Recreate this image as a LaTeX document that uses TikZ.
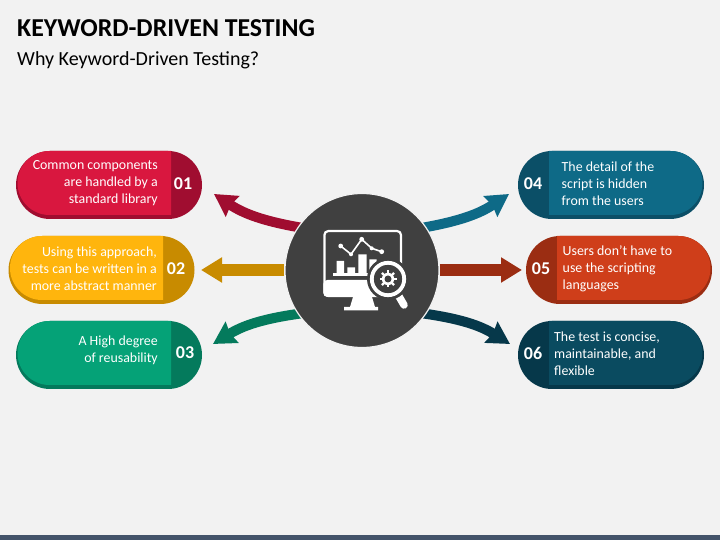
\documentclass[tikz,border=0pt]{standalone}
\usepackage{fontspec}
\setmainfont{Carlito}
\usetikzlibrary{positioning,shapes.misc,arrows.meta}
\pgfdeclarelayer{front}
\pgfsetlayers{main,front}

\definecolor{pagebg}{HTML}{F2F2F2}
\definecolor{barblue}{HTML}{44546A}
\definecolor{hubgrey}{HTML}{404040}
\definecolor{redmain}{HTML}{D9173F}
\definecolor{reddark}{HTML}{A00D30}
\definecolor{ambermain}{HTML}{FFB50D}
\definecolor{amberdark}{HTML}{C88B00}
\definecolor{greenmain}{HTML}{05A277}
\definecolor{greendark}{HTML}{047A5C}
\definecolor{tealmain}{HTML}{0E6A87}
\definecolor{tealdark}{HTML}{0B4F67}
\definecolor{orangemain}{HTML}{CF3E1A}
\definecolor{orangedark}{HTML}{9B2D12}
\definecolor{navymain}{HTML}{0A4B60}
\definecolor{navydark}{HTML}{06384A}

\tikzset{
  pill/.style={rounded rectangle,minimum width=186,minimum height=68,inner sep=0},
  lefttext/.style={anchor=east,align=right,text=white,inner sep=0,font=\fontsize{13.9}{17}\selectfont},
  righttext/.style={anchor=west,align=left,text=white,inner sep=0,font=\fontsize{13.9}{17}\selectfont},
  number/.style={text=white,inner sep=0,font=\fontsize{18}{20}\selectfont\bfseries},
  bandarrow/.style={line width=10,-{Stealth[length=22,width=24,inset=2]},shorten <=-6},
  flatarrow/.style={line width=12,-{Triangle[length=21,width=24]}},
}
% faces of the pills: left edge or right edge, divider, middle, colour
\newcommand{\faceleft}[4]{\fill[#4] (#2,#3+34) -- (#1+33.5,#3+34) arc[start angle=90,end angle=270,radius=32] -- (#2,#3-30) -- cycle;}
\newcommand{\faceright}[4]{\fill[#4] (#2,#3+34) -- (#1-33.5,#3+34) arc[start angle=90,end angle=-90,radius=32] -- (#2,#3-30) -- cycle;}

\begin{document}
\begin{tikzpicture}[x=1pt,y=1pt]
  \useasboundingbox (0,0) rectangle (720,540);
  \fill[pagebg] (0,0) rectangle (720,540);
  \fill[barblue] (0,0) rectangle (720,5);

  % Titles
  \node[anchor=west,inner sep=0,font=\fontsize{25.8}{30}\selectfont\bfseries] (title) at (17,511.5) {KEYWORD-DRIVEN TESTING};
  \node[anchor=west,inner sep=0,font=\fontsize{20}{24}\selectfont] (subtitle) at (17,480) {Why Keyword-Driven Testing?};

  % Define nodes
  \node[pill,fill=reddark] (library) at (109,355) {};
  \node[pill,fill=amberdark] (abstract) at (101.5,270) {};
  \node[pill,fill=greendark] (reusability) at (109,185) {};
  \node[pill,fill=tealdark] (hidden) at (611,355) {};
  \node[pill,fill=orangedark] (scripting) at (619,270) {};
  \node[pill,fill=navydark] (concise) at (611,185) {};

  \faceleft{16}{171}{355}{redmain}
  \faceleft{8.5}{163}{270}{ambermain}
  \faceleft{16}{171}{185}{greenmain}
  \faceright{704}{549}{355}{tealmain}
  \faceright{712}{557}{270}{orangemain}
  \faceright{704}{549}{185}{navymain}

  \node[lefttext] (librarytext) at (158,356.5) {Common components\\are handled by a\\standard library};
  \node[lefttext] (abstracttext) at (157,271.5) {Using this approach,\\tests can be written in a\\more abstract manner};
  \node[lefttext] (reusabilitytext) at (158,189.5) {A High degree\\of reusability};
  \node[righttext] (hiddentext) at (561.5,356.5) {The detail of the\\script is hidden\\from the users};
  \node[righttext] (scriptingtext) at (562.5,271.5) {Users don’t have to\\use the scripting\\languages};
  \node[righttext] (concisetext) at (554,186.5) {The test is concise,\\maintainable, and\\flexible};

  \node[number] (one) at (183,356) {01};
  \node[number] (two) at (176,271) {02};
  \node[number] (three) at (185,187) {03};
  \node[number] (four) at (533,356) {04};
  \node[number] (five) at (541,271) {05};
  \node[number] (six) at (533,187) {06};

  % Centre circle and its icon
  \begin{pgfonlayer}{front}
    \node[circle,fill=hubgrey,draw=pagebg,line width=1.2,minimum size=154,inner sep=0] (hub) at (362,269.5) {};

    % monitor
    \draw[white,line width=2.2,rounded corners=4] (324.4,309) rectangle (401,244);
    \fill[white,rounded corners=4] (323.3,260) rectangle (402,243);
    \fill[white] (353,243) -- (372,243) -- (375,233) -- (378,233) -- (378,229.5) -- (344,229.5) -- (344,233) -- (350,233) -- cycle;

    % bars and line of the chart
    \fill[white] (336.7,265) rectangle (344,279) (347.3,265) rectangle (355,272.7) (358.3,265) rectangle (366.7,285.7) (369.3,265) rectangle (376.7,280.7);
    \fill[white] (333.3,266.7) rectangle (372,264.3);
    \draw[white,line width=1.6] (340.7,294) -- (351,285.7) -- (361.7,300.7) -- (371.7,291.7) -- (381.7,288.3);
    \fill[white] (340.7,294) circle (2.4) (351,285.7) circle (2) (361.7,300.7) circle (2.4) (371.7,291.7) circle (2) (381.7,288.3) circle (2.4);

    % magnifier
    \draw[white,line width=7.5,line cap=round] (397,247) -- (404,235);
    \fill[hubgrey] (388,261) circle (21);
    \draw[white,line width=3.8] (388,261) circle (16.2);
    \fill[white] (388,261) circle (6.2);
    \foreach \ang in {0,45,...,315}
      \draw[white,line width=2.4] (388,261) ++(\ang:5.5) -- ++(\ang:3);
    \fill[hubgrey] (388,261) circle (3.5);
  \end{pgfonlayer}

  % Connect the nodes
  \coordinate (tipone) at (214,346);
  \coordinate (tiptwo) at (201,270);
  \coordinate (tipthree) at (213,196);
  \coordinate (tipfour) at (509,346);
  \coordinate (tipfive) at (522,270);
  \coordinate (tipsix) at (510,196);

  \draw[bandarrow,reddark] (hub.146) to[bend left=12] (tipone);
  \draw[flatarrow,amberdark] (hub.west |- tiptwo) -- (tiptwo);
  \draw[bandarrow,greendark] (hub.214) to[bend right=12] (tipthree);
  \draw[bandarrow,tealmain] (hub.34) to[bend right=12] (tipfour);
  \draw[flatarrow,orangedark] (hub.east |- tipfive) -- (tipfive);
  \draw[bandarrow,navydark] (hub.-34) to[bend left=12] (tipsix);
\end{tikzpicture}
\end{document}
